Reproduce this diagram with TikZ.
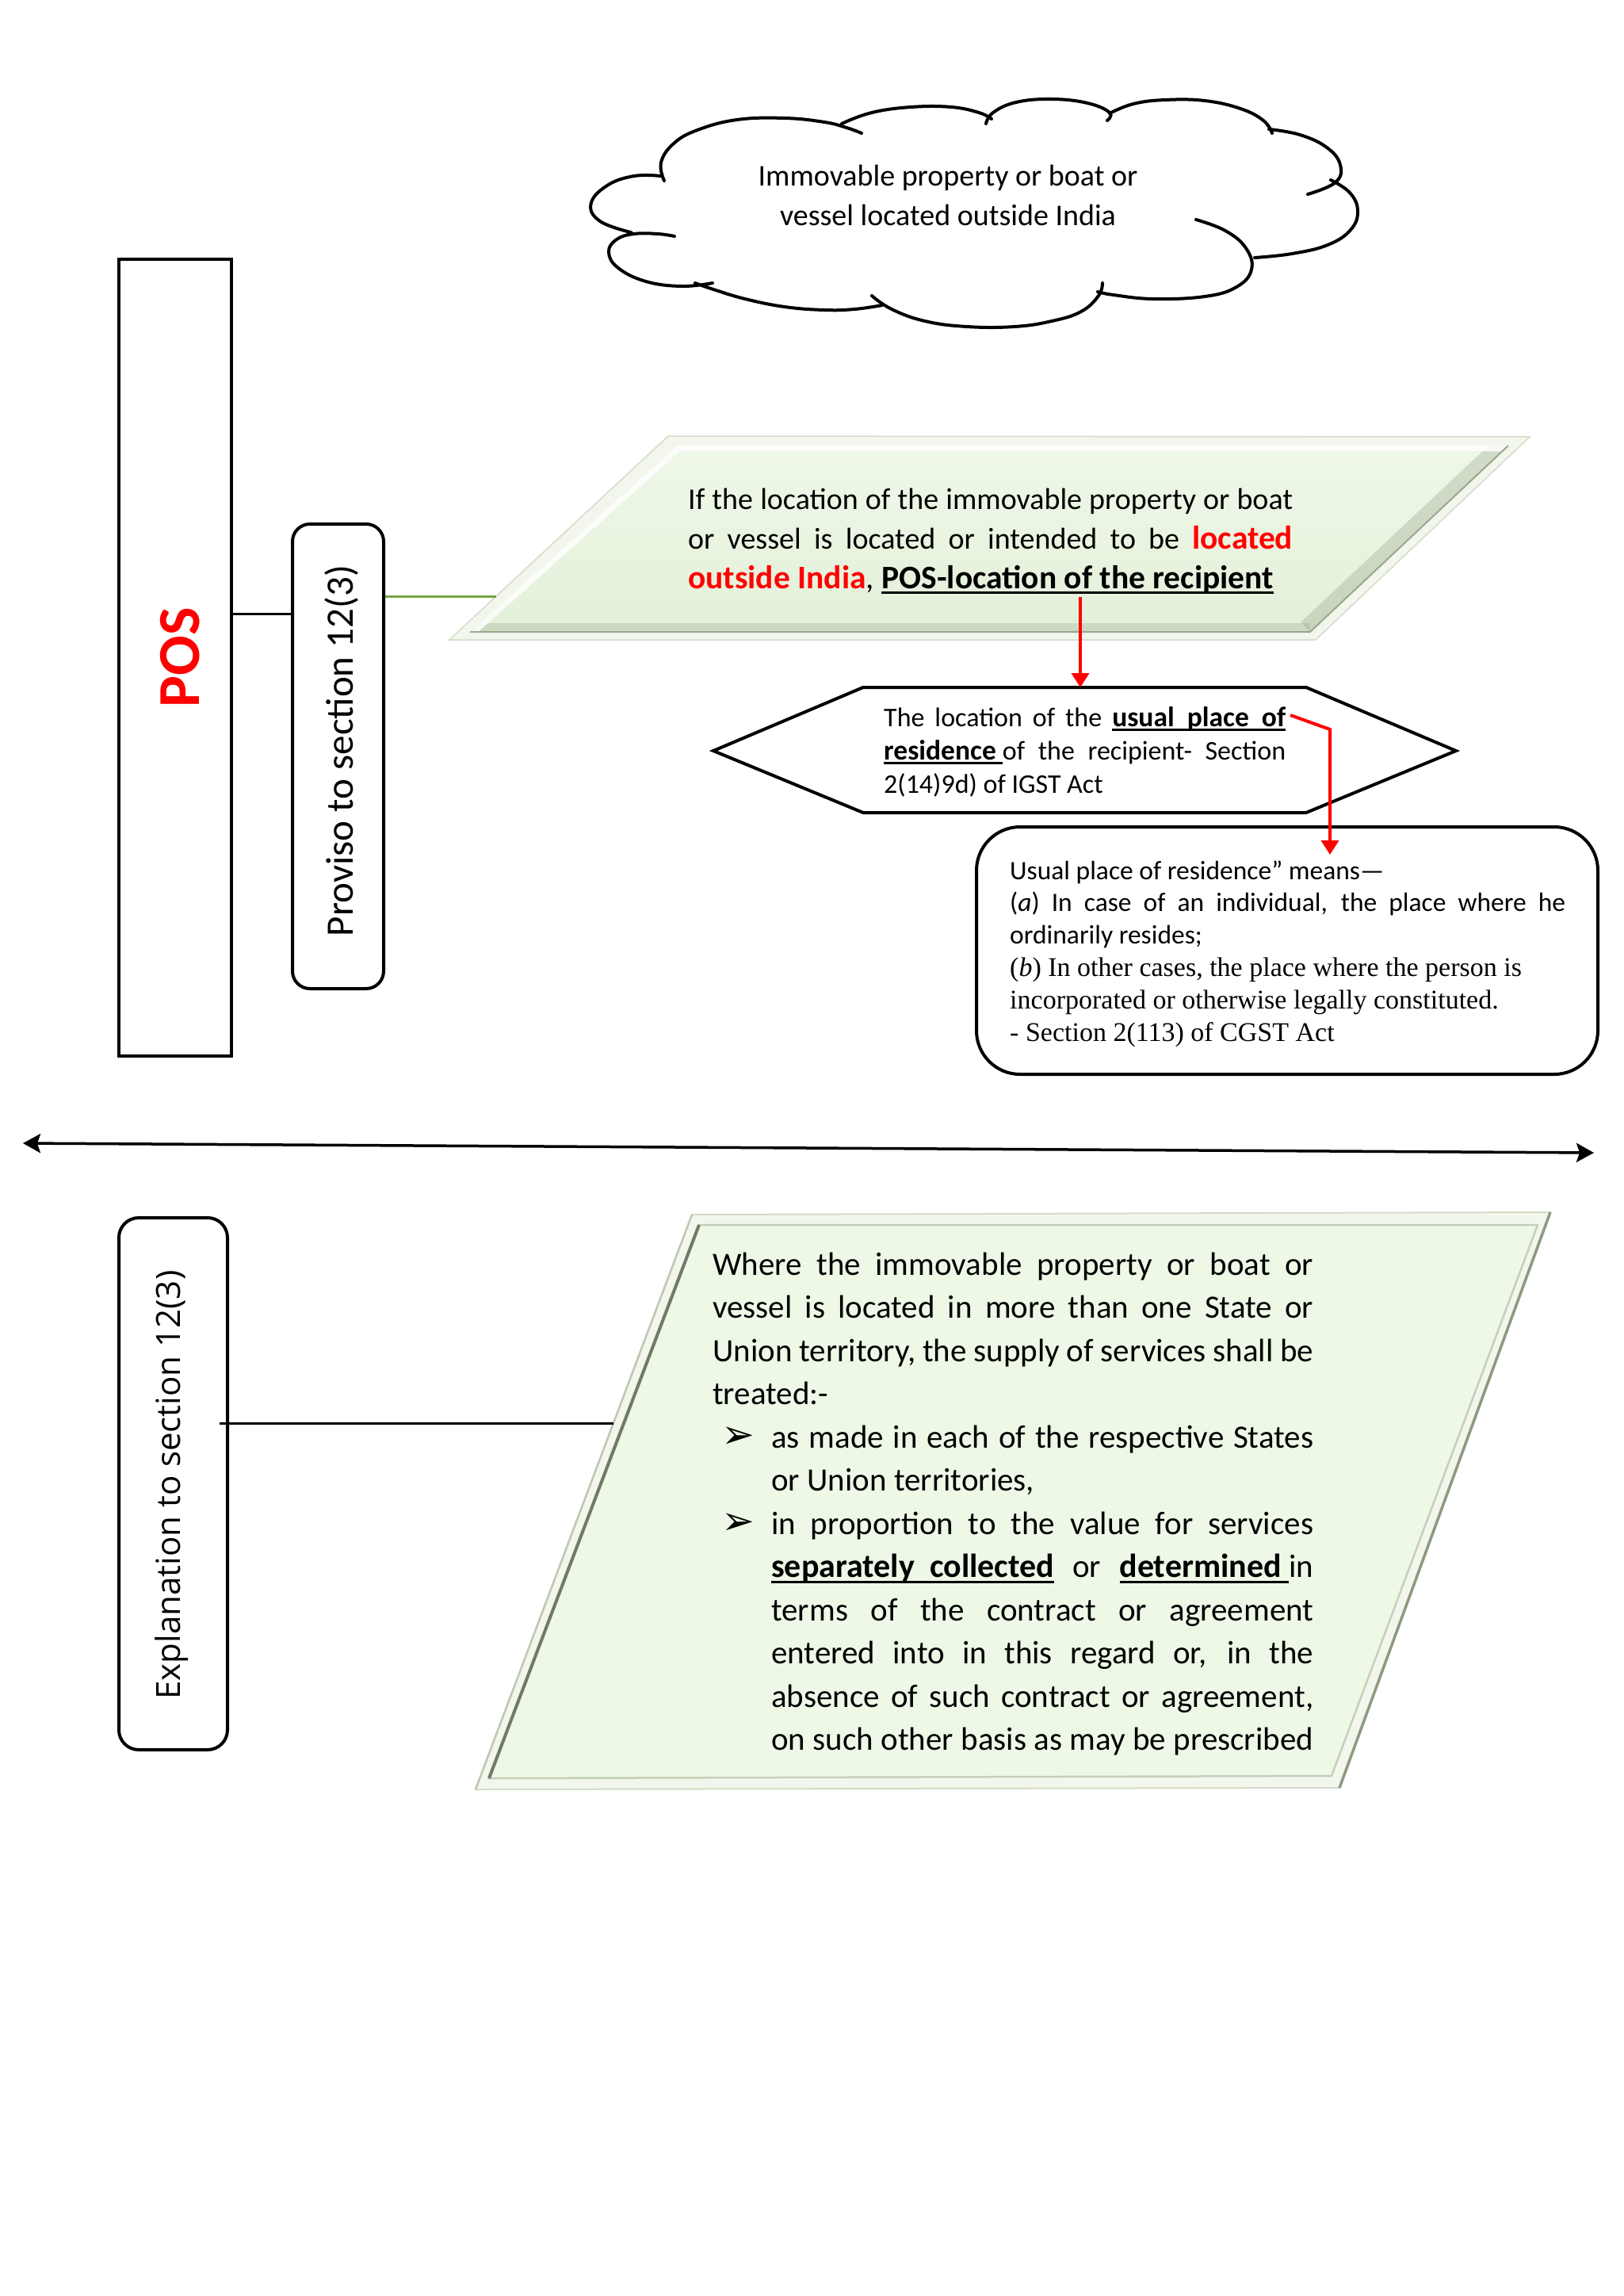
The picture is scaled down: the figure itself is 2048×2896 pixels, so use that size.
\documentclass[tikz,border=0pt]{standalone}
\usepackage{fontspec}
\setmainfont{Carlito}
\newfontfamily\timesf{Liberation Serif}
\newfontfamily\opensf{Open Sans}
\newfontfamily\dejavu{DejaVu Sans}
\usetikzlibrary{arrows.meta,calc}
\definecolor{pred}{HTML}{FF0000}
\definecolor{lgreen}{HTML}{77A443}
\definecolor{rimA}{HTML}{F2F6EC}
\definecolor{rimAline}{HTML}{D3DCC8}
\definecolor{faceTop}{HTML}{EFF8E9}
\definecolor{faceBot}{HTML}{E3F0D9}
\definecolor{bevdark}{HTML}{8C9A80}
\definecolor{bevline}{HTML}{9AA78E}
\definecolor{faceB}{HTML}{EDF8E7}
\newcommand\JustL[2]{\hbox{\makebox[#1][s]{#2}}}
\newcommand\LeftL[2]{\hbox to #1{#2\hfil}}
\newcommand\myul[1]{\setbox0\hbox{#1}\rlap{\rule[-0.17em]{\wd0}{0.075em}}\box0\relax}
\newcommand\mybul{{\dejavu\fontsize{50}{50}\selectfont ➢}}
\newcommand\BulL[1]{\hbox to 758pt{\hskip11pt\mybul\hfil\makebox[684pt][s]{#1}}}
\newcommand\IndJ[1]{\hbox to 758pt{\hfil\makebox[684pt][s]{#1}}}
\newcommand\IndL[1]{\hbox to 758pt{\hskip74pt #1\hfil}}
\tikzset{
  box/.style={draw=black, line width=4pt, inner sep=0pt},
  conn/.style={draw=black, line width=3pt},
  redarrow/.style={draw=pred, line width=4pt, -{Triangle[length=18pt,width=22pt]}},
  txt/.style={inner sep=0pt, anchor=base west},
  rotlbl/.style={inner sep=0pt, rotate=90}
}
\begin{document}
\begin{tikzpicture}[x=1pt,y=1pt]
\useasboundingbox (0,0) rectangle (2048,-2896);
\fill[white] (0,0) rectangle (2048,-2896);

% ---------- cloud ----------
\draw[line width=4pt, line cap=round]
  plot[smooth,tension=0.7] coordinates {(796.7,-293.3) (757,-279) (745.6,-257) (766,-234) (800,-222) (834,-222)}
  plot[smooth,tension=0.7] coordinates {(838,-228) (834,-205) (850,-181) (880,-164) (930,-151) (990,-149) (1040,-154) (1068,-161) (1087,-168)}
  plot[smooth,tension=0.7] coordinates {(1062,-156) (1100,-142) (1150,-135) (1200,-135) (1235,-142) (1251,-150)}
  plot[smooth,tension=0.7] coordinates {(1244,-156) (1253,-142) (1282,-129) (1327,-125) (1372,-130) (1400,-142) (1397,-152)}
  plot[smooth,tension=0.7] coordinates {(1400,-143) (1430,-131) (1470,-126) (1520,-127) (1565,-137) (1594,-152) (1605,-168)}
  plot[smooth,tension=0.7] coordinates {(1601,-163) (1640,-170) (1674,-186) (1691,-208) (1685,-230) (1650,-245)}
  plot[smooth,tension=0.7] coordinates {(1679,-227) (1703,-243) (1713,-266) (1704,-290) (1675,-309) (1630,-320) (1583,-325)}
  plot[smooth,tension=0.7] coordinates {(1509,-277) (1546,-291) (1572,-313) (1579,-340) (1560,-362) (1520,-374) (1455,-377) (1405,-372) (1385,-368)}
  plot[smooth,tension=0.7] coordinates {(1391,-357) (1386,-373) (1364,-393) (1327,-405) (1280,-412) (1220,-412) (1167,-405) (1125,-390) (1100,-373)}
  plot[smooth,tension=0.7] coordinates {(1113,-385) (1078,-390) (1040,-391) (990,-387) (940,-377) (900,-365) (877,-357)}
  plot[smooth,tension=0.7] coordinates {(899,-357) (860,-361) (815,-355) (780,-338) (768,-318) (778,-302) (800,-295) (830,-295) (851,-298)};
\node[inner sep=0pt, align=center, font=\fontsize{38}{50}\selectfont] (cloudtext) at (1196,-246)
  {Immovable property or boat or\\vessel located outside India};

% ---------- POS and proviso ----------
\node[box, minimum width=142pt, minimum height=1005pt] (pos) at (221,-829.5) {};
\node[rotlbl, font=\fontsize{75}{80}\selectfont\bfseries, text=pred] (poslbl) at (227,-829) {POS};
\node[box, rounded corners=22pt, minimum width=115pt, minimum height=586pt] (prov) at (426.5,-954) {};
\node[rotlbl, font=\fontsize{49}{52}\selectfont] (provlbl) at (431,-947) {Proviso to section 12(3)};
\coordinate (y774) at (0,-774);
\coordinate (y752) at (0,-752);
\draw[conn] (pos.east |- y774) -- (prov.west |- y774);

% ---------- parallelogram 1 ----------
\coordinate (p1oTL) at (843,-550); \coordinate (p1oTR) at (1930,-551);
\coordinate (p1oBR) at (1660,-807); \coordinate (p1oBL) at (567,-807);
\coordinate (p1iTL) at (855,-562); \coordinate (p1iTR) at (1903,-562);
\coordinate (p1iBR) at (1653,-797); \coordinate (p1iBL) at (593,-797);
\filldraw[fill=rimA, draw=rimAline, line width=1.5pt] (p1oTL)--(p1oTR)--(p1oBR)--(p1oBL)--cycle;
\shade[top color=faceTop, bottom color=faceBot] (p1iTL)--(p1iTR)--(p1iBR)--(p1iBL)--cycle;
\begin{scope}
  \clip (p1iTL)--(p1iTR)--(p1iBR)--(p1iBL)--cycle;
  \draw[line width=34pt, bevdark, opacity=0.3] (p1iTR)--(p1iBR);
  \draw[line width=22pt, bevdark, opacity=0.25] (p1iBR)--(p1iBL);
  \draw[line width=14pt, white, opacity=0.85] (p1iBL)--(p1iTL)--(p1iTR);
\end{scope}
\draw[line width=2pt, bevline] (p1iTR)--(p1iBR)--(p1iBL);
\coordinate (p1L) at (626,-752);
\draw[conn, draw=lgreen] (prov.east |- y752) -- (p1L);
\node[txt, font=\fontsize{38}{50}\selectfont] (p1text) at (868,-642) {\vtop{\baselineskip=50pt
  \JustL{763pt}{If the location of the immovable property or boat}
  \JustL{763pt}{or vessel is located or intended to be {\fontsize{41.5}{50}\selectfont\textcolor{pred}{\textbf{located}}}}
  \LeftL{763pt}{\fontsize{41.5}{50}\selectfont\textcolor{pred}{\textbf{outside India}}, \myul{\textbf{POS-location of the recipient}}}}};

% ---------- hexagon ----------
\coordinate (hL) at (900,-947); \coordinate (hTL) at (1089,-867); \coordinate (hTR) at (1648,-867);
\coordinate (hR) at (1837,-947); \coordinate (hBR) at (1648,-1025); \coordinate (hBL) at (1089,-1025);
\draw[line width=4pt, line join=miter] (hL)--(hTL)--(hTR)--(hR)--(hBR)--(hBL)--cycle;
\node[txt, font=\fontsize{34}{42}\selectfont] (hextext) at (1115,-916) {\vtop{\baselineskip=42pt
  \JustL{507pt}{The location of the {\fontsize{35.5}{42}\selectfont\myul{\textbf{usual\ \ place\ \ of}}}}
  \JustL{507pt}{{\fontsize{35.5}{42}\selectfont\myul{\textbf{residence }}}of the recipient- Section}
  \LeftL{507pt}{2(14)9d) of IGST Act}}};
\coordinate (a1s) at (1363,-753);
\coordinate (hexTop) at (1363,-867);
\draw[redarrow] (a1s) -- (hexTop);

% ---------- definition box ----------
\node[box, rounded corners=55pt, minimum width=784pt, minimum height=312pt] (defbox) at (1624,-1199) {};
\node[txt, font=\fontsize{33.5}{41}\selectfont] (deftext) at (1274,-1109) {\vtop{\baselineskip=40.8pt
  \LeftL{701pt}{Usual place of residence” means—}
  \JustL{701pt}{(\textit{a}) In case of an individual, the place where he}
  \LeftL{701pt}{ordinarily resides;}
  \LeftL{701pt}{\timesf\fontsize{34}{41}\selectfont(\textit{b}) In other cases, the place where the person is}
  \LeftL{701pt}{\timesf\fontsize{34}{41}\selectfont incorporated or otherwise legally constituted.}
  \LeftL{701pt}{\timesf\fontsize{34}{41}\selectfont - Section 2(113) of CGST Act}}};
\coordinate (a2s) at (1628,-902);
\coordinate (a2b) at (1678,-920);
\coordinate (a2e) at (1678,-1078);
\draw[redarrow] (a2s) -- (a2b) -- (a2e);

% ---------- divider ----------
\coordinate (dl) at (29,-1442);
\coordinate (dr) at (2011,-1454);
\draw[line width=3.5pt, {Stealth[length=22pt,width=24pt,inset=4pt]}-{Stealth[length=22pt,width=24pt,inset=4pt]}] (dl) -- (dr);

% ---------- explanation ----------
\node[box, rounded corners=25pt, minimum width=137pt, minimum height=671pt] (expl) at (218.5,-1871.5) {};
\node[rotlbl, font=\opensf\fontsize{42}{46}\selectfont] (expllbl) at (217,-1873) {Explanation to section 12(3)};

% ---------- parallelogram 2 ----------
\coordinate (p2oTL) at (873,-1532); \coordinate (p2oTR) at (1956,-1529);
\coordinate (p2oBR) at (1690,-2255); \coordinate (p2oBL) at (600,-2257);
\coordinate (p2iTL) at (882,-1545); \coordinate (p2iTR) at (1940,-1545);
\coordinate (p2iBR) at (1680,-2240); \coordinate (p2iBL) at (617,-2243);
\filldraw[fill=rimA, draw=rimAline, line width=2pt] (p2oTL)--(p2oTR)--(p2oBR)--(p2oBL)--cycle;
\draw[line width=3.5pt, draw=bevdark] (p2oTR)--(p2oBR);
\draw[line width=2.5pt, draw=rimAline!70!bevdark] (p2oTL)--(p2oBL);
\filldraw[fill=faceB, draw=rimAline!80!bevdark, line width=2.5pt] (p2iTL)--(p2iTR)--(p2iBR)--(p2iBL)--cycle;
\draw[line width=4pt, draw=bevdark!80!black] (p2iTL)--(p2iBL);
\coordinate (p2L) at (774,-1795);
\coordinate (y1795) at (0,-1795);
\draw[conn] ([xshift=-12pt]expl.east |- y1795) -- (p2L);
\node[txt, font=\fontsize{41}{54.5}\selectfont] (p2text) at (899,-1608) {\vtop{\baselineskip=54.5pt
  \JustL{758pt}{Where the immovable property or boat or}
  \JustL{758pt}{vessel is located in more than one State or}
  \JustL{758pt}{Union territory, the supply of services shall be}
  \LeftL{758pt}{treated:-}
  \BulL{as made in each of the respective States}
  \IndL{or Union territories,}
  \BulL{in proportion to the value for services}
  \IndJ{{\fontsize{42}{54.5}\selectfont\myul{\textbf{separately\ \ collected}}} or {\fontsize{42}{54.5}\selectfont\myul{\textbf{determined }}}in}
  \IndJ{terms of the contract or agreement}
  \IndJ{entered into in this regard or, in the}
  \IndJ{absence of such contract or agreement,}
  \IndJ{on such other basis as may be prescribed}}};
\end{tikzpicture}
\end{document}
